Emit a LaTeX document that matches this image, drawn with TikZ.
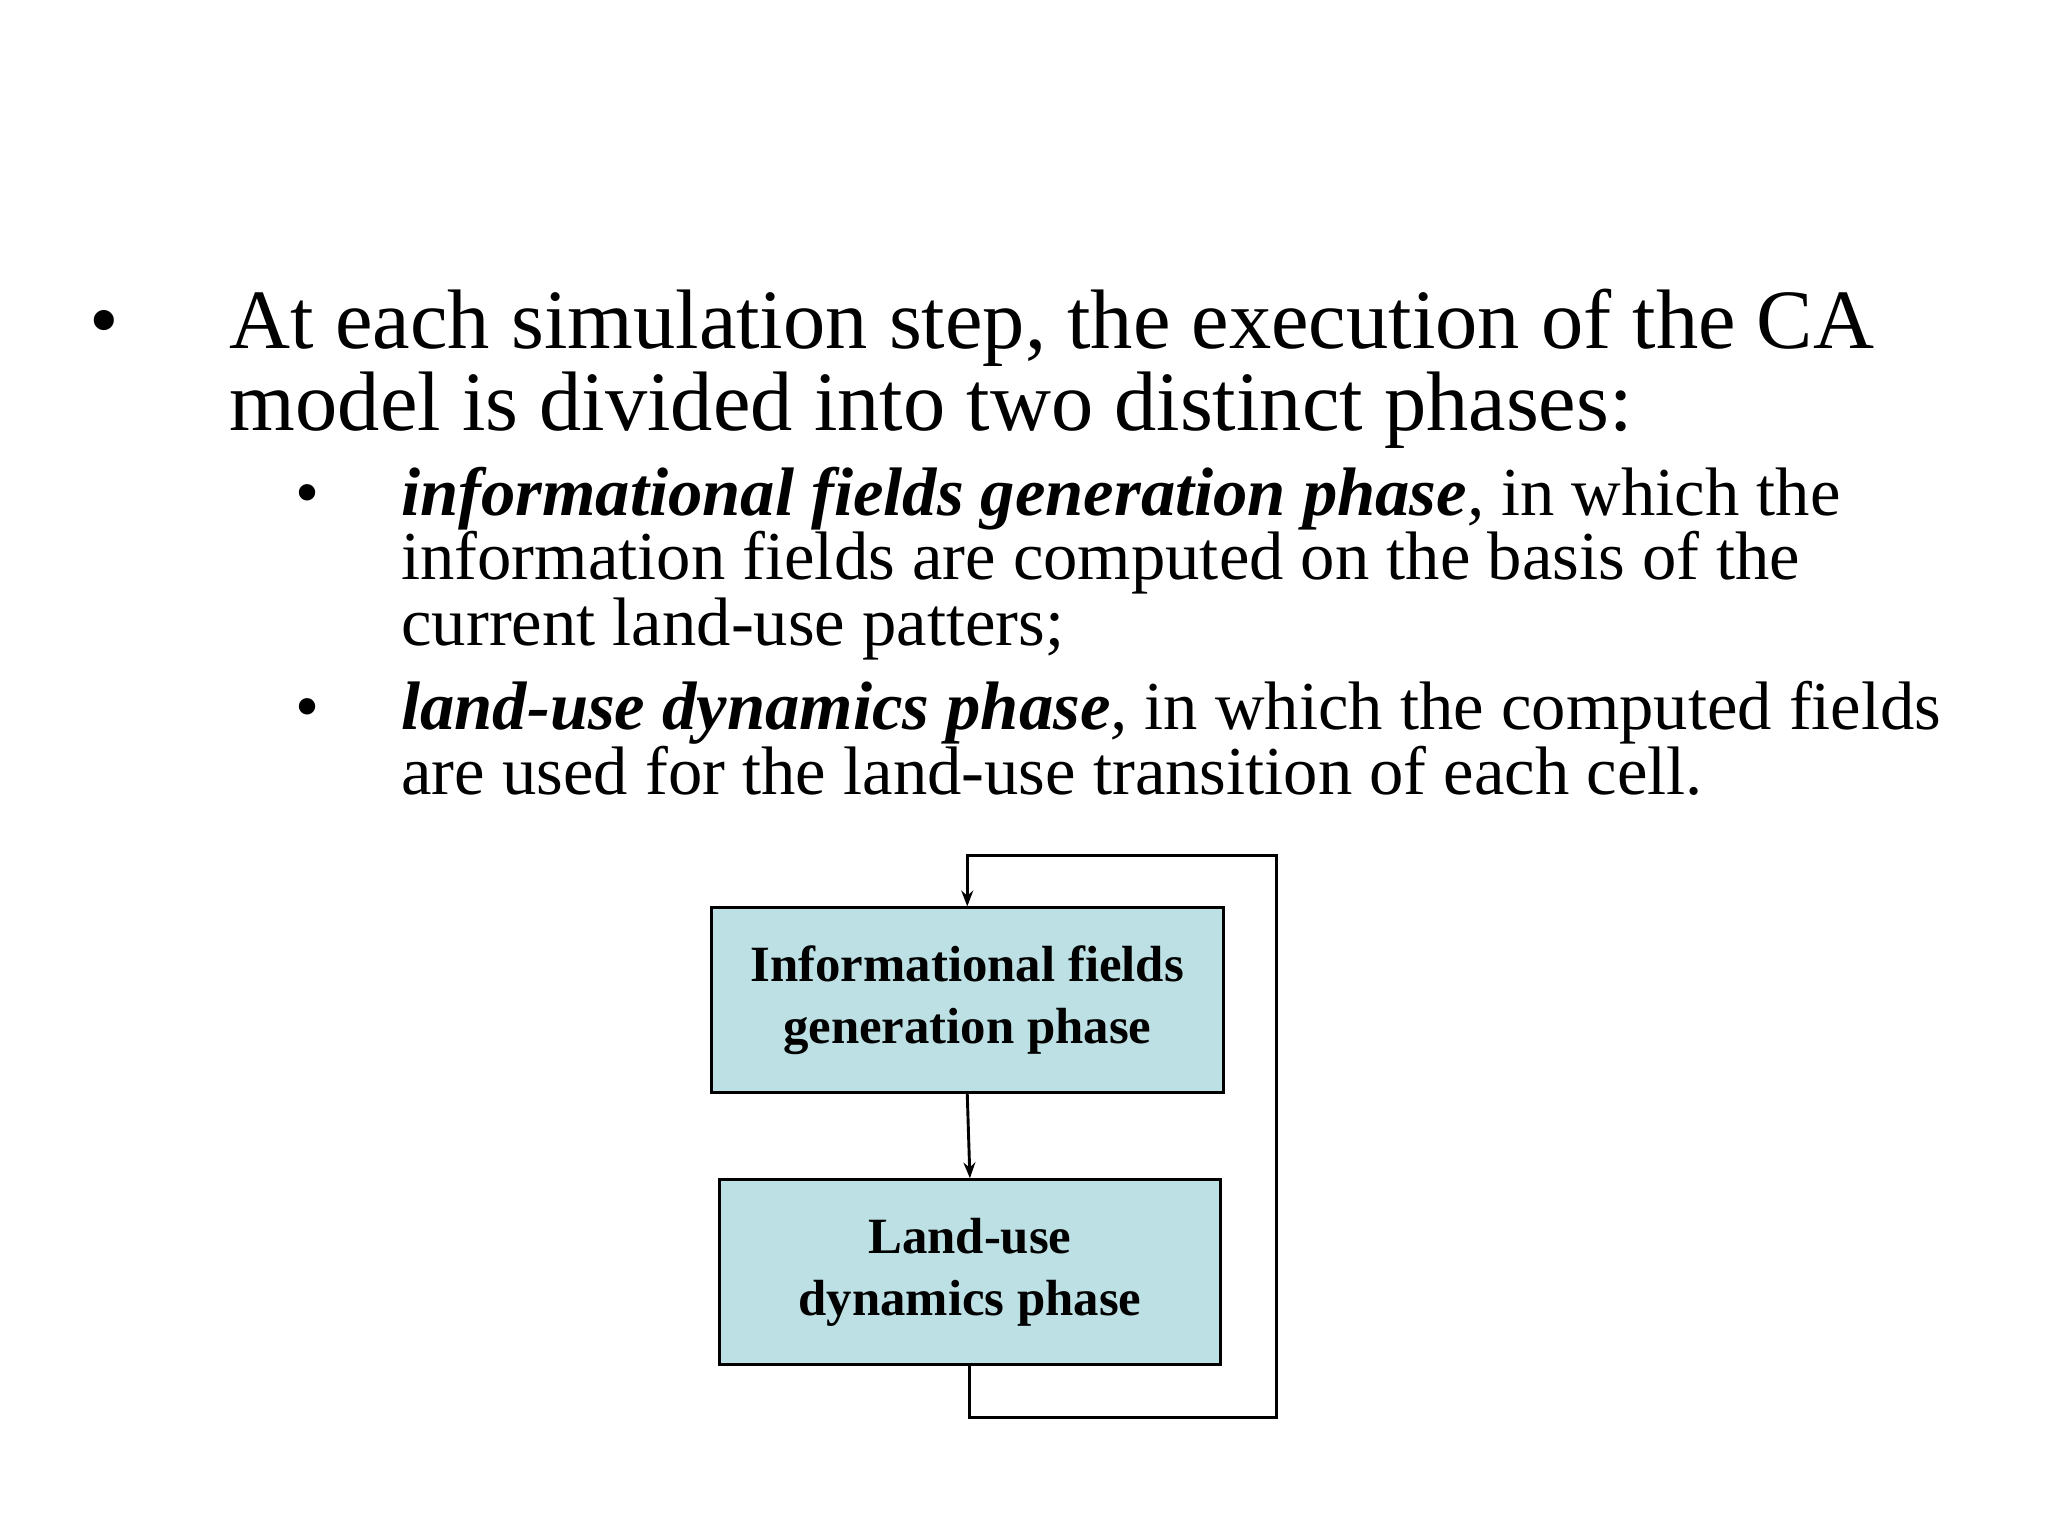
\documentclass[tikz,border=0pt]{standalone}
\usepackage{fontspec}
\setmainfont{Liberation Serif}
\usetikzlibrary{arrows.meta}
\definecolor{boxfill}{HTML}{BCE0E3}
\tikzset{
  big/.style={anchor=base west,inner sep=0,font=\fontsize{64}{62}\selectfont},
  mid/.style={anchor=base west,inner sep=0,font=\fontsize{52}{50}\selectfont},
  phase/.style={draw=black,line width=2.2pt,fill=boxfill,align=center,font=\fontsize{38.5}{47}\selectfont\bfseries},
  conn/.style={line width=2.2pt,-{Stealth[length=12pt,width=9pt]}}
}
\begin{document}
\begin{tikzpicture}[x=1pt,y=-1pt]
\useasboundingbox (0,0) rectangle (1552,1164);
\node[big] (b1) at (68,264) {•};
\node[big] (l1) at (174,264) {At each simulation step, the execution of the CA};
\node[big] (l2) at (174,326) {model is divided into two distinct phases:};
\node[mid] (b2) at (224,391) {•};
\node[mid] (s1) at (304,391) {\textbf{\textit{informational fields generation phase}}\textit{,} in which the};
\node[mid] (s2) at (304,439) {information fields are computed on the basis of the};
\node[mid] (s3) at (304,489) {current land-use patters;};
\node[mid] (b3) at (224,553) {•};
\node[mid] (s4) at (304,553) {\textbf{\textit{land-use dynamics phase}}\textit{,} in which the computed fields};
\node[mid] (s5) at (304,602) {are used for the land-use transition of each cell.};
\node[phase,minimum width=388pt,minimum height=140pt] (p1) at (733,758) {Informational fields\\generation phase};
\node[phase,minimum width=380pt,minimum height=140pt] (p2) at (735,964) {Land-use\\dynamics phase};
\draw[conn] (p1.south) -- (p2.north);
\coordinate (c1) at (735,1074);
\coordinate (c2) at (967,1074);
\coordinate (c3) at (967,648);
\coordinate (c4) at (733,648);
\draw[conn] (p2.south) -- (c1) -- (c2) -- (c3) -- (c4) -- (p1.north);
\end{tikzpicture}
\end{document}
